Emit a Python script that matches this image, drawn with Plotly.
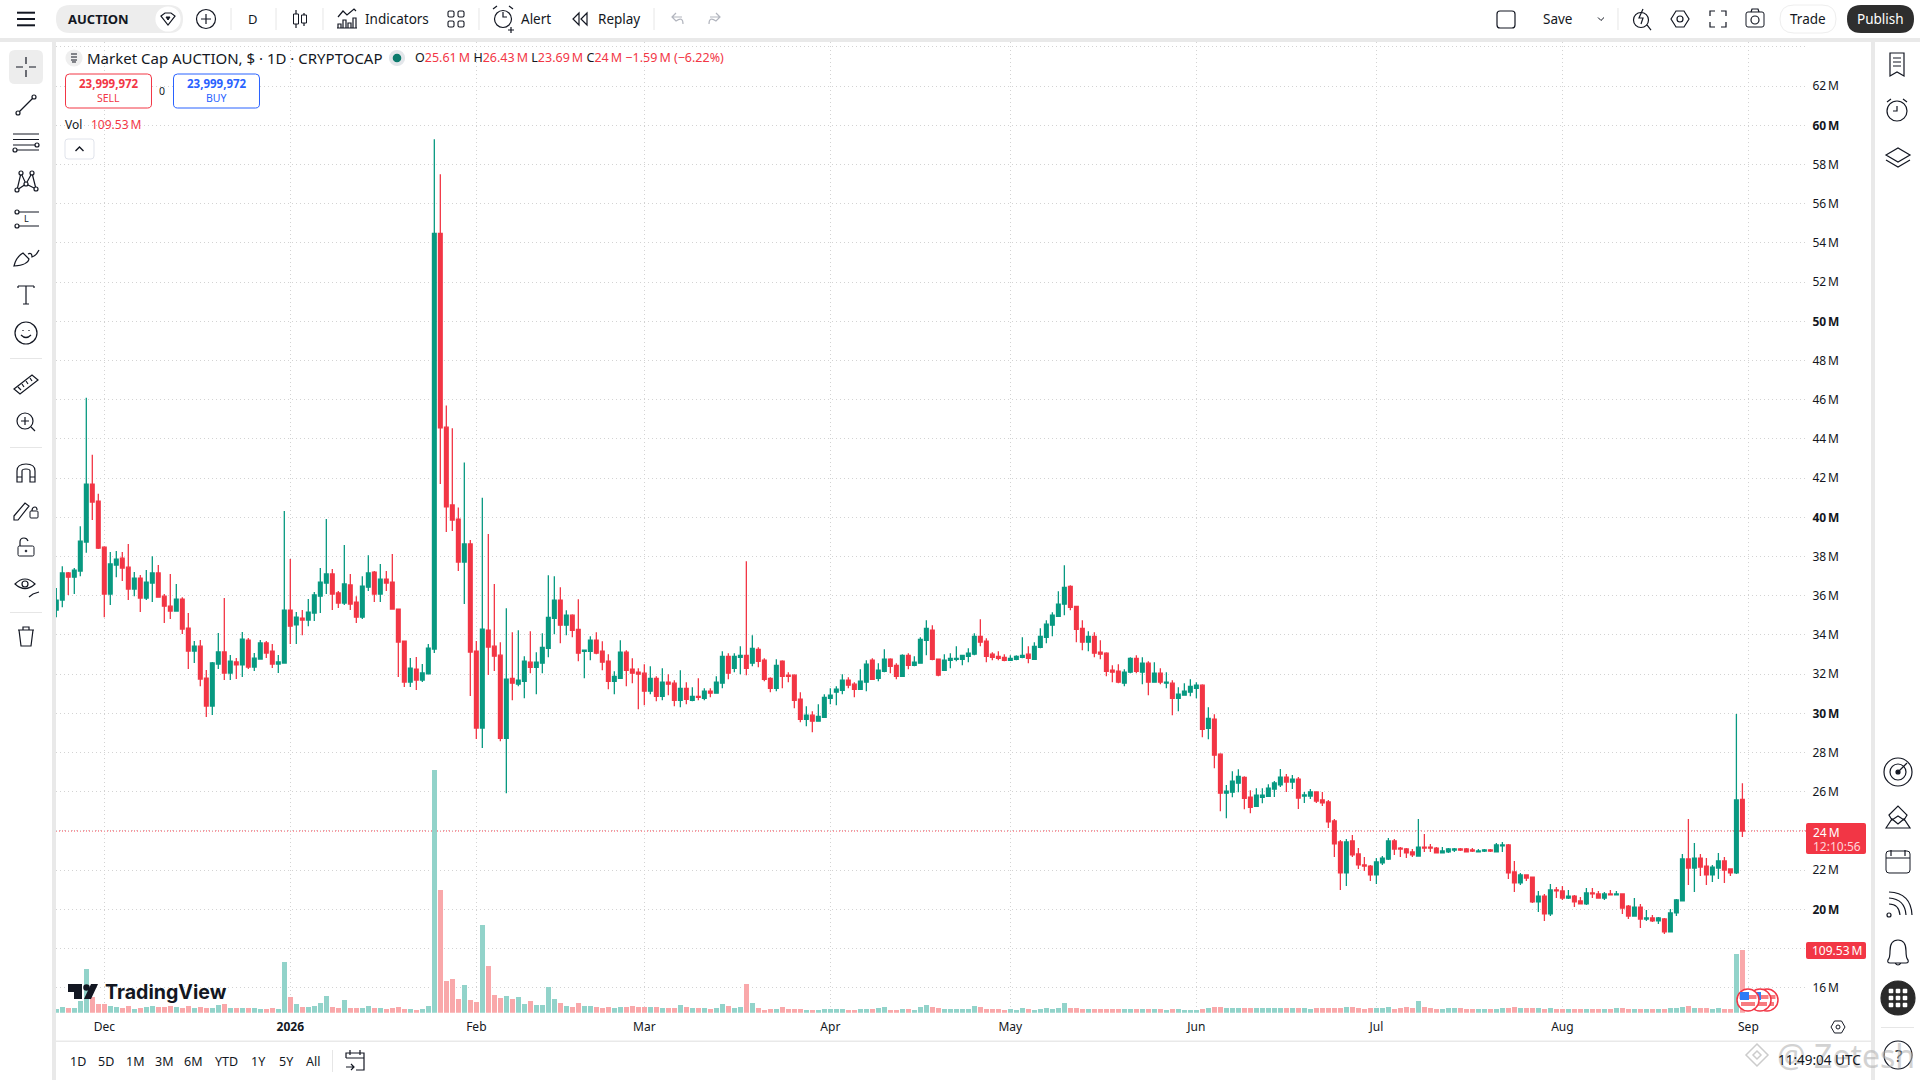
import pandas as pd
import plotly.graph_objects as go

W, H = 1920, 1080
FONT = "Noto Sans, sans-serif"
GREEN, RED = "#089981", "#F23645"
VGREEN, VRED = "#92D3CA", "#F9A8AA"
INK = "#131722"
STRIP = "#E9E9E9"

start_date = "2025-11-23"
opens = [
    35.27,35.78,37.16,36.95,37.26,38.74,41.7,40.83,
    38.48,36.09,37.57,37.92,37.46,36.34,36.90,35.88,36.65,37.16,35.98,35.47,35.22,35.83,34.35,33.18,33.43,31.80,30.37,32.52,33.13,32.06,32.62,32.47,33.74,32.36,32.77,33.59,33.18,32.52,32.57,
    35.27,34.51,34.86,34.76,35.12,35.98,36.65,37.11,36.14,35.63,36.55,35.68,34.91,36.44,37.21,36.09,36.85,36.70,35.32,33.69,31.60,32.26,31.70,32.01,33.28,54.48,44.6,40.63,39.91,37.72,38.64,
    33.18,29.25,34.25,33.43,32.97,28.73,31.79,31.49,31.64,32.61,32.35,32.56,33.32,34.85,35.77,34.50,35.01,34.29,33.17,33.17,33.73,33.17,32.66,31.64,31.79,33.12,32.25,32.10,
    32.05,31.13,31.79,30.87,31.59,31.54,30.67,31.28,30.67,30.87,30.77,31.13,31.03,31.54,32.91,32.30,32.86,32.96,32.56,33.27,32.71,31.79,31.28,32.66,31.95,31.95,30.72,29.70,29.91,29.60,29.80,
    30.77,31.08,31.18,31.69,31.49,31.23,31.59,32.71,31.79,32.15,32.76,32.45,31.89,32.96,32.45,32.56,33.73,34.24,32.76,32.20,32.71,32.76,32.76,32.91,33.02,33.93,33.68,33.02,32.91,32.86,
    32.71,32.76,32.86,33.02,32.76,33.37,33.88,34.50,34.95,35.57,36.48,35.46,34.34,33.63,33.93,33.12,33.07,32.20,32.15,31.54,32.10,32.81,32.10,32.56,31.59,32.05,31.54,31.54,30.77,30.93,31.08,
    31.28,31.44,29.24,29.70,27.92,25.93,25.98,26.44,26.74,25.72,25.26,25.72,25.77,26.14,26.35,26.75,26.50,26.65,25.78,25.78,25.99,25.58,25.48,24.51,23.44,21.86,23.49,22.83,22.27,22.21,
    21.76,22.37,22.57,23.49,23.13,23.08,22.93,22.72,23.18,23.18,23.13,22.88,22.93,23.03,23.08,23.08,23.03,22.93,22.98,23.03,22.93,23.24,23.29,21.91,21.35,21.76,21.65,20.38,20.68,19.77,20.99,
    20.94,20.58,20.68,20.43,20.28,20.84,20.79,20.58,20.79,20.74,20.79,20.17,19.66,20.12,19.51,19.56,19.41,19.51,18.85,19.82,20.43,22.57,22.11,22.62,22.21,21.76,22.11,22.47,22.06,21.86,25.61,
]
highs = [
    36.39,37.51,37.21,37.41,39.55,46.1,43.2,41.2,
    38.53,38.23,38.28,38.23,38.64,37.21,37.06,37.31,38.02,37.57,36.09,37.11,36.60,35.93,35.12,33.69,33.74,32.21,32.62,34.10,35.88,32.98,32.82,34.15,33.84,33.08,33.74,33.69,33.54,32.98,40.32,
    37.87,35.17,35.27,35.83,36.19,37.41,39.91,37.36,36.24,38.59,37.11,35.98,37.00,38.07,37.26,37.62,37.26,38.13,35.32,33.69,32.82,32.87,32.52,33.54,59.29,57.5,45.7,44.55,40.5,42.8,38.84,
    33.69,41.0,39.15,36.60,33.63,35.36,34.14,34.24,32.91,34.19,33.12,34.09,37.05,36.99,36.43,35.26,35.06,35.82,33.22,33.93,34.14,33.68,33.02,32.15,33.73,33.22,32.81,32.30,
    32.51,32.40,31.89,32.30,32.00,31.69,32.20,31.59,31.33,31.79,31.28,31.28,31.89,33.17,33.07,33.07,33.42,37.76,33.99,33.37,32.81,31.84,32.76,32.71,32.10,32.00,31.08,30.36,30.11,30.47,30.98,
    31.28,31.38,32.00,31.84,31.59,32.25,32.71,32.81,32.56,33.27,32.81,32.56,33.02,33.07,32.91,33.88,34.75,34.50,32.76,33.02,33.07,33.42,32.96,33.32,34.09,34.80,33.83,33.12,33.17,33.02,
    32.96,32.96,33.88,33.42,33.63,34.34,34.75,35.16,36.23,37.56,36.53,35.46,34.75,34.19,34.14,33.73,33.12,32.45,32.51,32.25,32.86,32.96,32.86,32.66,32.61,32.30,32.10,31.69,31.33,31.54,31.74,
    31.59,31.49,30.31,29.96,27.97,26.34,27.05,27.15,26.79,26.08,26.18,26.18,26.39,26.55,27.16,26.91,26.86,26.75,25.99,26.14,25.99,25.99,25.58,24.61,23.54,23.59,23.80,23.13,22.67,22.27,
    22.62,22.72,23.64,23.59,23.18,23.13,23.08,24.61,23.85,23.34,23.18,23.18,23.13,23.13,23.13,23.13,23.13,23.08,23.08,23.08,23.39,23.44,23.34,22.47,21.86,21.76,21.65,20.94,20.79,21.30,21.14,
    21.19,20.99,20.74,20.63,21.09,21.09,20.94,20.89,20.99,20.94,20.79,20.22,20.58,20.28,19.97,19.71,19.61,19.56,20.02,20.53,22.83,24.61,23.39,22.83,22.62,22.27,22.88,22.67,22.06,29.97,26.43,
]
lows = [
    34.91,35.42,36.04,36.09,37.00,38.19,39.86,38.38,
    34.91,35.53,36.95,36.75,35.78,35.98,35.17,35.78,35.68,35.93,34.61,34.81,35.22,34.05,32.26,32.57,31.39,29.81,29.92,32.26,31.70,31.70,31.75,31.85,32.26,32.16,32.77,32.82,32.31,32.06,32.57,
    33.54,33.54,33.99,34.45,34.71,35.12,36.09,35.27,35.37,35.53,35.27,34.61,34.81,36.24,35.68,35.68,36.24,35.32,31.85,31.34,31.34,31.19,31.60,32.01,33.08,41.7,39.25,39.3,37.26,35.58,30.88,
    28.69,28.23,31.96,32.16,28.58,25.93,30.67,31.38,30.77,32.05,30.98,32.05,32.86,34.04,33.58,33.99,33.88,32.66,31.79,32.71,33.02,32.20,31.23,30.98,31.79,31.38,31.54,30.21,
    30.42,30.98,30.62,30.67,30.93,30.36,30.31,30.47,30.62,30.67,30.67,30.82,31.03,31.28,31.74,32.10,32.00,31.95,32.40,32.35,31.64,31.08,31.13,31.28,31.59,30.26,29.55,29.34,29.04,29.60,29.80,
    30.47,30.42,30.98,31.28,30.82,31.23,31.13,31.74,31.64,32.10,32.05,31.74,31.89,32.25,32.40,32.56,32.96,32.71,31.89,32.20,32.30,32.66,32.45,32.61,32.96,33.42,32.61,32.71,32.71,32.66,
    32.71,32.71,32.81,32.56,32.76,33.32,33.58,33.93,34.95,35.01,35.26,33.63,33.22,33.17,32.86,32.76,31.89,31.59,31.54,31.38,32.05,32.05,31.49,30.93,31.59,31.49,31.28,29.91,30.11,30.93,30.87,
    30.77,28.78,28.68,27.20,25.01,24.65,25.72,25.98,25.11,24.91,25.26,25.42,25.77,25.73,26.24,25.99,26.14,25.12,25.43,25.63,25.43,25.27,24.15,22.67,20.99,21.19,22.67,22.06,21.96,21.45,
    21.30,22.27,22.52,22.78,22.67,22.62,22.67,22.72,22.93,22.93,22.88,22.88,22.88,22.93,22.98,22.93,22.93,22.93,22.93,22.93,22.93,22.93,21.55,20.89,21.25,21.45,20.33,19.87,19.41,19.66,20.58,
    20.48,20.53,20.12,20.28,20.23,20.58,20.58,20.48,20.74,20.74,19.77,19.51,19.66,19.05,19.41,19.36,19.26,18.75,18.85,19.66,20.43,21.25,20.89,21.70,21.25,21.40,21.55,21.35,21.70,21.81,23.69,
]
closes = [
    35.78,37.16,36.95,37.31,38.79,41.7,40.78,38.43,
    36.09,37.62,37.87,37.41,36.34,36.90,35.88,36.70,37.16,35.93,35.47,35.22,35.83,34.30,33.18,33.43,31.75,30.37,32.57,33.13,32.06,32.67,32.47,33.79,32.36,32.82,33.59,33.08,32.52,32.62,35.27,
    34.45,34.91,34.76,35.17,36.04,36.70,37.11,36.09,35.63,36.60,35.58,34.91,36.49,37.16,36.09,36.85,36.65,35.32,33.64,31.60,32.31,31.70,32.06,33.33,54.48,44.57,40.53,39.86,37.72,38.64,33.13,
    29.25,34.30,33.38,32.92,28.73,31.74,31.54,31.69,32.66,32.35,32.61,33.37,34.90,35.77,34.50,35.01,34.24,33.07,33.22,33.73,33.07,32.61,31.64,31.89,33.12,32.20,32.05,32.00,
    31.13,31.79,30.87,31.59,31.49,30.67,31.28,30.72,30.87,30.82,31.13,31.03,31.59,32.91,32.05,32.91,32.96,32.30,33.32,32.66,31.74,31.28,32.45,31.89,31.89,30.67,29.70,29.91,29.60,29.85,30.82,
    30.93,31.23,31.69,31.44,31.23,31.64,32.51,31.74,32.20,32.76,32.40,31.89,32.96,32.45,32.61,33.78,34.34,32.76,31.95,32.71,32.81,32.81,32.96,33.07,33.93,33.63,32.91,32.86,32.81,32.71,
    32.81,32.91,32.96,32.81,33.42,33.93,34.55,35.01,35.57,36.43,35.41,34.29,33.63,33.93,33.07,33.02,32.15,32.10,31.59,32.10,32.81,32.15,32.56,31.59,32.05,31.59,31.59,30.77,30.98,31.13,31.38,
    31.44,29.19,29.75,27.87,25.93,26.03,26.54,26.79,25.67,25.21,25.83,25.83,26.18,26.45,26.75,26.50,26.65,25.68,25.84,25.99,25.53,25.43,24.46,23.34,21.86,23.44,22.78,22.27,22.21,21.76,
    22.42,22.62,23.49,23.08,23.08,22.88,22.78,23.18,23.13,23.13,22.88,22.98,23.08,23.08,23.03,22.93,22.98,22.98,23.03,22.98,23.29,23.29,21.86,21.35,21.76,21.60,20.38,20.68,19.77,20.99,20.94,
    20.58,20.68,20.38,20.28,20.84,20.79,20.58,20.79,20.74,20.79,20.07,19.66,20.12,19.51,19.56,19.41,19.56,18.85,19.82,20.48,22.57,22.11,22.62,22.16,21.76,22.16,22.47,22.01,21.86,25.58,24.00,
]
volumes = [
    7.0,10.5,8.7,8.7,21.0,76.8,27.9,15.7,
    15.7,12.2,10.5,8.7,12.2,7.0,8.7,10.5,12.2,10.5,10.5,12.2,10.5,8.7,12.2,8.7,10.5,8.7,8.7,14.0,15.7,8.7,8.7,8.7,8.7,8.7,7.0,7.0,8.7,7.0,89.0,
    27.9,15.7,10.5,10.5,12.2,17.5,29.7,10.5,8.7,22.7,8.7,8.7,8.7,12.2,8.7,8.7,7.0,8.7,10.5,7.0,7.0,5.2,7.0,12.2,424.3,214.8,55.9,59.4,24.4,48.9,22.7,
    19.2,152.5,82.1,31.4,26.2,29.7,24.4,27.9,15.7,21.0,14.0,14.0,45.4,24.4,17.5,12.2,10.5,17.5,12.2,12.2,10.5,8.7,10.5,8.7,10.5,10.5,12.2,10.5,
    10.5,10.5,10.5,8.7,8.7,8.7,14.0,10.5,8.7,8.7,8.7,7.0,8.7,15.7,12.2,8.7,10.5,50.6,17.5,8.7,5.2,7.0,7.0,10.5,7.0,7.0,7.0,5.2,5.2,5.2,7.0,
    7.0,7.0,7.0,5.2,5.2,7.0,7.0,7.0,8.7,10.5,5.2,5.2,7.0,7.0,5.2,10.5,14.0,10.5,8.7,7.0,7.0,7.0,7.0,7.0,12.2,10.5,7.0,7.0,7.0,5.2,
    7.0,5.2,8.7,7.0,5.2,7.0,8.7,7.0,8.7,17.5,8.7,8.7,7.0,7.0,7.0,7.0,7.0,7.0,7.0,7.0,7.0,7.0,7.0,7.0,7.0,7.0,5.2,7.0,7.0,5.2,5.2,
    5.2,7.0,8.7,10.5,10.5,8.7,8.7,8.7,8.7,8.7,8.7,8.7,8.7,8.7,8.7,8.7,8.7,8.7,8.7,7.0,8.7,8.7,8.7,8.7,8.7,10.5,10.5,8.7,7.0,8.7,
    8.7,8.7,10.5,7.0,8.7,10.5,8.7,21.0,10.5,8.7,7.0,7.0,8.7,8.7,8.7,7.0,7.0,7.0,7.0,7.0,7.0,8.7,8.7,10.5,8.7,8.7,8.7,8.7,7.0,8.7,7.0,
    7.0,7.0,7.0,7.0,7.0,7.0,7.0,7.0,7.0,8.7,8.7,7.0,7.0,7.0,7.0,7.0,7.0,7.0,8.7,8.7,10.5,12.2,8.7,8.7,8.7,7.0,8.7,7.0,7.0,102.4,109.53,
]
price_ticks = [16, 18, 20, 22, 24, 26, 28, 30, 32, 34, 36, 38, 40, 42, 44, 46, 48, 50, 52, 54, 56, 58, 60, 62, 64]
price_labels = ["16\u2009M", "", "<b>20\u2009M</b>", "22\u2009M", "", "26\u2009M", "28\u2009M", "<b>30\u2009M</b>",
                "32\u2009M", "34\u2009M", "36\u2009M", "38\u2009M", "<b>40\u2009M</b>", "42\u2009M", "44\u2009M", "46\u2009M",
                "48\u2009M", "<b>50\u2009M</b>", "52\u2009M", "54\u2009M", "56\u2009M", "58\u2009M", "<b>60\u2009M</b>", "62\u2009M", ""]
month_ticks = ["2025-12-01", "2026-01-01", "2026-02-01", "2026-03-01", "2026-04-01", "2026-05-01",
               "2026-06-01", "2026-07-01", "2026-08-01", "2026-09-01"]
month_labels = ["Dec", "<b>2026</b>", "Feb", "Mar", "Apr", "May", "Jun", "Jul", "Aug", "Sep"]
range_buttons = ["1D", "5D", "1M", "3M", "6M", "YTD", "1Y", "5Y", "All"]
range_button_x = [78, 106, 135, 164, 193, 226, 258, 286, 313]

dates = pd.date_range(start_date, periods=len(closes), freq="D")
vol_colors = [VGREEN if c >= o else VRED for o, c in zip(opens, closes)]

fig = go.Figure()
fig.add_trace(go.Candlestick(
    x=dates, open=opens, high=highs, low=lows, close=closes,
    increasing=dict(line=dict(color=GREEN, width=1.3), fillcolor=GREEN),
    decreasing=dict(line=dict(color=RED, width=1.3), fillcolor=RED),
    whiskerwidth=0, hoverinfo="skip", showlegend=False, xaxis="x", yaxis="y"))
fig.add_trace(go.Bar(
    x=dates, y=volumes, marker=dict(color=vol_colors, line=dict(width=0)),
    width=72000000, hoverinfo="skip", showlegend=False, xaxis="x", yaxis="y2"))

shapes, notes = [], []
def X(x): return x / W
def Y(y): return 1 - y / H

def path(d, cx=0, cy=0, color=INK, width=1.2, fill=None):
    out, is_x = [], True
    for tok in d.split():
        if tok.isalpha():
            out.append(tok); is_x = True
        else:
            v = float(tok)
            out.append(f"{X(v + cx):.6f}" if is_x else f"{Y(v + cy):.6f}")
            is_x = not is_x
    shapes.append(dict(type="path", xref="paper", yref="paper", path=" ".join(out),
                       line=dict(color=color, width=width), fillcolor=fill or "rgba(0,0,0,0)", layer="above"))

def rect(x0, y0, x1, y1, fill=None, color=None, width=1, r=0):
    if r:
        d = (f"M {x0+r} {y0} L {x1-r} {y0} Q {x1} {y0} {x1} {y0+r} L {x1} {y1-r} Q {x1} {y1} {x1-r} {y1} "
             f"L {x0+r} {y1} Q {x0} {y1} {x0} {y1-r} L {x0} {y0+r} Q {x0} {y0} {x0+r} {y0} Z")
        path(d, color=color or "rgba(0,0,0,0)", width=width if color else 0, fill=fill)
    else:
        shapes.append(dict(type="rect", xref="paper", yref="paper", x0=X(x0), x1=X(x1), y0=Y(y0), y1=Y(y1),
                           fillcolor=fill or "rgba(0,0,0,0)", line=dict(color=color or "rgba(0,0,0,0)", width=width if color else 0),
                           layer="above"))

def circ(cx, cy, r, fill=None, color=INK, width=1.2):
    shapes.append(dict(type="circle", xref="paper", yref="paper", x0=X(cx - r), x1=X(cx + r), y0=Y(cy + r), y1=Y(cy - r),
                       fillcolor=fill or "rgba(0,0,0,0)", line=dict(color=color, width=width), layer="above"))

def T(x, y, s, size=13, color=INK, anchor="left", font=FONT, opacity=1):
    notes.append(dict(xref="paper", yref="paper", x=X(x), y=Y(y), text=s, showarrow=False, xanchor=anchor, yanchor="middle",
                      font=dict(size=size, color=color, family=font), opacity=opacity, borderpad=0, borderwidth=0))

# panel strips
rect(0, 38, W, 42, fill=STRIP)
rect(52, 42, 56, H, fill=STRIP)
rect(1871, 42, 1875, H, fill=STRIP)
rect(56, 1040.5, 1871, 1042, fill=STRIP)

# top toolbar
for y in (12.7, 19, 25.3):
    path(f"M 17 {y} L 35 {y}", width=2)
rect(56, 5, 183, 33, fill="#EDEDED", r=14)
T(68, 19, "<b>AUCTION</b>", 13)
circ(168, 19, 12, fill="#FFFFFF", color="#FFFFFF")
path("M -7 -3 L -3 -6 L 3 -6 L 7 -3 L 0 6 Z", 168, 19, width=1.2)
path("M -2 -2 L 0 1 L 2 -2 Z", 168, 19, fill=INK, width=1)
circ(206, 19, 9.5)
path("M -5 0 L 5 0 M 0 -5 L 0 5", 206, 19)
for x in (231, 276, 323, 479, 654, 1618):
    path(f"M {x} 8 L {x} 30", color="#E6E6E6", width=1)
T(253, 19, "D", 13, anchor="center")
path("M -4 -9 L -4 9 M 4 -6 L 4 7", 300, 19)
rect(293.5, 14, 298.5, 24, fill="#FFFFFF", color=INK)
rect(301.5, 15, 306.5, 23, fill="#FFFFFF", color=INK)
path("M -11 -2 L -6 -8 L -2 -4 L 5 -10 L 7 -8 M -11 9 L -11 5 L -8 5 L -8 9 M -6 9 L -6 1 L -3 1 L -3 9 M -1 9 L -1 4 L 2 4 L 2 9 M 4 9 L 4 -1 L 7 -1 L 7 9 M -12 9 L 8 9", 349, 19)
T(365, 19, "Indicators", 13.5)
for dx, dy in ((-7, -7), (3, -7), (-7, 3), (3, 3)):
    rect(456 + dx - 1, 19 + dy - 1, 456 + dx + 5, 19 + dy + 5, color=INK, r=1.5, width=1.1)
circ(503, 19, 8.5)
path("M 0 -5 L 0 0 L 4 0 M -10 -8 L -6 -11 M 10 -8 L 6 -11 M 8 10 L 8 16 M 5 13 L 11 13", 503, 17)
T(521, 19, "Alert", 13.5)
path("M -3 -6 L -9 0 L -3 6 Z M 5 -6 L -1 0 L 5 6 Z", 582, 19)
T(598, 19, "Replay", 13.5)
path("M 5 0 L -5 0 M -1 -4 L -5 0 L -1 4 Q 6 -1 6 7", 677, 17, color="#B2B5BE")
path("M -5 0 L 5 0 M 1 -4 L 5 0 L 1 4 Q -6 -1 -6 7", 715, 17, color="#B2B5BE")
rect(1497, 11, 1515, 28, color=INK, r=3, width=1.2)
T(1557, 19, "Save", 13.5, anchor="center")
path("M -3 -1.5 L 0 1.5 L 3 -1.5", 1601, 19, width=1)
circ(1641, 20, 7.5)
path("M 1 -10 L -3 -1 L 1 -1 L -1 5 M 5 6 L 9 11", 1642, 19)
path("M -9 0 L -4 -8 L 4 -8 L 9 0 L 4 8 L -4 8 Z", 1680, 19)
circ(1680, 19, 3)
path("M -8 -3 L -8 -8 L -3 -8 M 3 -8 L 8 -8 L 8 -3 M -8 3 L -8 8 L -3 8 M 3 8 L 8 8 L 8 3", 1718, 19)
rect(1746, 12, 1764, 27, color=INK, r=2)
path("M -4 -7 L -3 -10 L 3 -10 L 4 -7", 1755, 19)
circ(1755, 20, 4)
rect(1780, 5, 1836, 33, color="#EEEEEE", r=14)
T(1808, 19, "Trade", 13.5, anchor="center")
rect(1847, 5, 1914, 33, fill="#2E2E2E", r=14)
T(1880.5, 19, "Publish", 13.5, color="#FFFFFF", anchor="center")

# legend block
circ(74, 58, 8, fill="#EFEFEF", color="#EFEFEF")
path("M -3 -4 L 3 -4 M -3 -1 L 3 -1 M -3 2 L 3 2 M -2 4 L 2 4", 74, 58, width=1)
T(87, 58, "Market Cap AUCTION, $ · 1D · CRYPTOCAP", 15)
circ(397, 58, 7.5, fill="#E3E6EA", color="#E3E6EA")
circ(397, 58, 3.7, fill="#0B7A6C", color="#0B7A6C")
r_span = '<span style="color:%s">' % RED
T(415, 58, f"O{r_span}25.61\u2009M</span> H{r_span}26.43\u2009M</span> L{r_span}23.69\u2009M</span> C{r_span}24\u2009M</span> {r_span}\u22121.59\u2009M (\u22126.22%)</span>", 12.5)
rect(65.5, 74, 151.5, 108, fill="#FFFFFF", color=RED, r=4)
T(108.5, 84, "<b>23,999,972</b>", 11.5, color=RED, anchor="center")
T(108.5, 98, "SELL", 10.5, color=RED, anchor="center")
T(162, 91, "0", 10.5, anchor="center")
rect(173.5, 74, 259.5, 108, fill="#FFFFFF", color="#2962FF", r=4)
T(216.5, 84, "<b>23,999,972</b>", 11.5, color="#2962FF", anchor="center")
T(216.5, 98, "BUY", 10.5, color="#2962FF", anchor="center")
T(65, 124.5, "Vol", 12)
T(91, 124.5, "109.53\u2009M", 12, color=RED)
rect(65, 139, 94, 159, fill="#FFFFFF", color="#E0E3EB", r=3)
path("M -4 2 L 0 -2 L 4 2", 79.5, 149, width=1.4)

# left toolbar
rect(9, 50, 43, 84, fill="#EDEDED", r=6)
path("M 0 -10 L 0 -3 M 0 3 L 0 10 M -10 0 L -3 0 M 3 0 L 10 0", 26, 67, width=1.2)
path("M -8 8 L 8 -8", 26, 105); circ(18, 113, 2, fill="#FFFFFF"); circ(34, 97, 2, fill="#FFFFFF")
path("M -13 -8 L 13 -8 M -13 -2.5 L 13 -2.5 M -13 3 L 11 3 M -9 8 L 13 8", 26, 142); circ(37, 145, 2, fill="#FFFFFF"); circ(15, 150, 2, fill="#FFFFFF")
path("M -9 9 L -5 -8 L 0 3 L 6 -8 L 10 8 L 0 3 L -9 9", 26, 181)
for dx, dy in ((-9, 9), (-5, -8), (0, 3), (6, -8), (10, 8)):
    circ(26 + dx, 181 + dy, 2, fill="#FFFFFF")
path("M -9 -7 L 13 -7 M -9 7 L 13 7", 26, 219); circ(17, 212, 2, fill="#FFFFFF"); circ(17, 226, 2, fill="#FFFFFF")
T(26, 219, "L", 9, anchor="center")
path("M -12 9 Q -10 0 -3 -4 L 3 2 Q 2 8 -12 9 Z M 2 -3 Q 6 -5 6 0 Q 10 -1 13 -7", 26, 257)
path("M -8 -9 L 8 -9 M 0 -9 L 0 9 M -3 9 L 3 9 M -8 -9 L -8 -7 M 8 -9 L 8 -7", 26, 295)
circ(26, 333, 11)
path("M -5 2 Q 0 7 5 2 M -3 -3 L -3 -2 M 3 -3 L 3 -2", 26, 333)
rect(10, 358, 42, 359, fill="#E6E6E6")
path("M -12 5 L 6 -9 L 12 -4 L -6 10 Z M -8 3 L -5 6 M -4 0 L -2 3 M 0 -3 L 2 0 M 4 -6 L 6 -3", 26, 384)
circ(25, 421, 8)
path("M -4 0 L 4 0 M 0 -4 L 0 4 M 6 6 L 10 10", 25, 421)
rect(10, 447, 42, 448, fill="#E6E6E6")
path("M -9 9 L -9 -2 Q -9 -9 0 -9 Q 9 -9 9 -2 L 9 9 L 4 9 L 4 -2 Q 4 -4 0 -4 Q -4 -4 -4 -2 L -4 9 Z M -9 4 L -4 4 M 4 4 L 9 4", 26, 473)
path("M -11 4 L 0 -9 L 4 -6 L -7 8 L -11 8 Z", 25, 512)
rect(30, 511, 38, 518, color=INK, r=1); path("M -2 0 Q -2 -4 1 -4 Q 3 -4 3 -1", 34, 511)
rect(18, 546, 34, 556, color=INK, r=1.5); path("M -4 0 L -4 -4 Q -4 -8 0 -8 Q 3 -8 4 -5", 24, 546); circ(26, 551, 1, fill=INK, width=0.5)
path("M -10 -1 Q 0 -11 10 -1 Q 0 8 -10 -1 Z", 25, 585); circ(25, 584, 3)
path("M 2 9 L 6 6 L 12 4", 27, 588)
rect(10, 612, 42, 613, fill="#E6E6E6")
path("M -8 -7 L 8 -7 M -3 -7 L -3 -10 L 3 -10 L 3 -7 M -7 -7 L -5 9 L 5 9 L 7 -7", 26, 637)

# right toolbar
path("M -7 -12 L 7 -12 L 7 11 L 0 7 L -7 11 Z M -4 -7 L 4 -7 M -4 -3 L 4 -3 M -4 1 L 4 1", 1897, 65)
circ(1897, 111, 10)
path("M 0 -5 L 0 0 L -4 0 M -10 -9 L -6 -12 M 10 -9 L 6 -12", 1897, 111)
path("M -12 -2 L 0 -9 L 12 -2 L 0 5 Z M -12 3 L 0 10 L 12 3", 1898, 157)
circ(1898, 772, 14); circ(1898, 772, 8); circ(1898, 772, 2, fill=INK); path("M 0 0 L 9 -9", 1898, 772)
path("M -12 11 L -6 2 L 0 7 L 6 2 L 12 11 Z M -9 -2 L 0 -11 L 9 -2 L 6 3 L 0 -1 L -6 3 Z", 1898, 817)
rect(1886, 851, 1910, 873, color=INK, r=3)
path("M -12 -6 L 12 -6 M -7 -14 L -7 -8 M 7 -14 L 7 -8", 1898, 864, width=1.2)
circ(1889, 915, 2)
path("M -9 -4 Q 1 -4 2 7 M -9 -10 Q 7 -9 8 7 M -9 -16 Q 13 -15 14 7", 1898, 908)
path("M -10 8 Q -8 6 -8 -1 Q -8 -12 0 -12 Q 8 -12 8 -1 Q 8 6 10 8 Q 11 11 8 11 L -8 11 Q -11 11 -10 8 Z M -3 11 Q 0 15 3 11", 1898, 952)
circ(1898, 998, 17, fill="#2A2A2A", color="#2A2A2A")
for dx in (-7, 0, 7):
    for dy in (-7, 0, 7):
        rect(1898 + dx - 2.3, 998 + dy - 2.3, 1898 + dx + 2.3, 998 + dy + 2.3, fill="#FFFFFF", r=1)
rect(1881, 1027, 1914, 1028, fill="#E6E6E6")
circ(1898, 1055, 14)
T(1898, 1055, "?", 17, anchor="center")

# bottom bar
for label, x in zip(range_buttons, range_button_x):
    T(x, 1061, label, 12.5, anchor="center")
path("M 332.5 1050 L 332.5 1072", color="#E6E6E6", width=1)
path("M -9 -3 L -9 -8 L 9 -8 L 9 9 L 1 9 M -9 -3 L 9 -3 M -5 -11 L -5 -6 M 5 -11 L 5 -6 M -9 6 L -1 6 M -4 3 L -1 6 L -4 9", 355, 1061)
path("M -7 0 L -3.5 -6 L 3.5 -6 L 7 0 L 3.5 6 L -3.5 6 Z", 1838, 1027, width=1)
circ(1838, 1027, 2, width=1)

# TradingView logo
path("M 68 984 L 82 984 L 82 999 L 74 999 L 74 992 L 68 992 Z", color="#131722", width=0, fill="#131722")
circ(86.5, 987.5, 3.3, fill="#131722", color="#131722", width=0)
path("M 91 984 L 98 984 L 91 999 L 84 999 Z", color="#131722", width=0, fill="#131722")
T(105, 992, "<b>TradingView</b>", 19.6, font="Inter, sans-serif")

# last-price / volume boxes
shapes.append(dict(type="line", xref="paper", yref="y", x0=X(56), x1=X(1806), y0=closes[-1], y1=closes[-1],
                   line=dict(color=RED, width=1, dash="1px,2px"), layer="below"))
rect(1806, 823, 1866, 854, fill=RED, r=2)
T(1813, 832, "24\u2009M", 12, color="#FFFFFF")
T(1813, 846, "12:10:56", 12, color="#FFD5D9")
rect(1806, 942, 1866, 959, fill=RED, r=2)
T(1812, 950.5, f"{volumes[-1]}\u2009M", 12, color="#FFFFFF")

# event markers
for cx in (1767, 1760, 1748):
    circ(cx, 1000, 11, fill="#FFFFFF", color=RED, width=1.5)
    rect(cx - 8.5, 995, cx + 8.5, 999, fill="#F77C80")
    rect(cx - 7, 1002, cx + 7, 1006, fill="#F77C80")
    rect(cx - 8, 992, cx + 1, 1000, fill="#2E7CF6")

# watermark and clock
path("M 0 -11 L 11 0 L 0 11 L -11 0 Z M 0 -4 L 4 0 L 0 4 L -4 0 Z", 1757, 1055, color="#CCCCCC", width=1.5)
T(1777, 1055, "@ Zetesh", 32, color="#B5B5B5", opacity=0.6)
T(1819.5, 1060, "11:49:04 UTC", 13.5, anchor="center")

fig.update_layout(
    width=W, height=H, autosize=False, margin=dict(l=0, r=0, t=0, b=0, pad=0, autoexpand=False),
    paper_bgcolor="#FFFFFF", plot_bgcolor="#FFFFFF", showlegend=False, boxgap=0.38, boxgroupgap=0,
    hovermode=False, dragmode=False, bargap=0,
    font=dict(family=FONT, color=INK, size=12),
    xaxis=dict(type="date", domain=[X(56), X(1806)], range=["2025-11-22 22:48", "2026-09-10 14:24"],
               rangeslider=dict(visible=False), tickmode="array", tickvals=month_ticks, ticktext=month_labels,
               tickangle=0, ticks="outside", ticklen=3, tickcolor="rgba(0,0,0,0)", showgrid=True, gridcolor="#D3D3D3",
               griddash="1px,3px", gridwidth=1, showline=False, zeroline=False, tickfont=dict(size=12, color=INK), anchor="y"),
    yaxis=dict(domain=[Y(1012.7), Y(42)], range=[14.73, 64.25], side="right", tickmode="array", tickvals=price_ticks,
               ticktext=price_labels, ticks="outside", ticklen=3, tickcolor="rgba(0,0,0,0)", showgrid=True, gridcolor="#D3D3D3",
               griddash="1px,3px", gridwidth=1, showline=False, zeroline=False, tickfont=dict(size=12, color=INK), anchor="x"),
    yaxis2=dict(domain=[Y(1012.7), Y(42)], range=[0, 1696], overlaying="y", side="right", showgrid=False, zeroline=False,
                showticklabels=False, ticks="", showline=False, anchor="x"),
    shapes=shapes, annotations=notes,
)

fig.write_html("out.html", config=dict(displayModeBar=False, staticPlot=True),
               post_script="document.body.style.margin='0';document.body.style.overflow='hidden';")
